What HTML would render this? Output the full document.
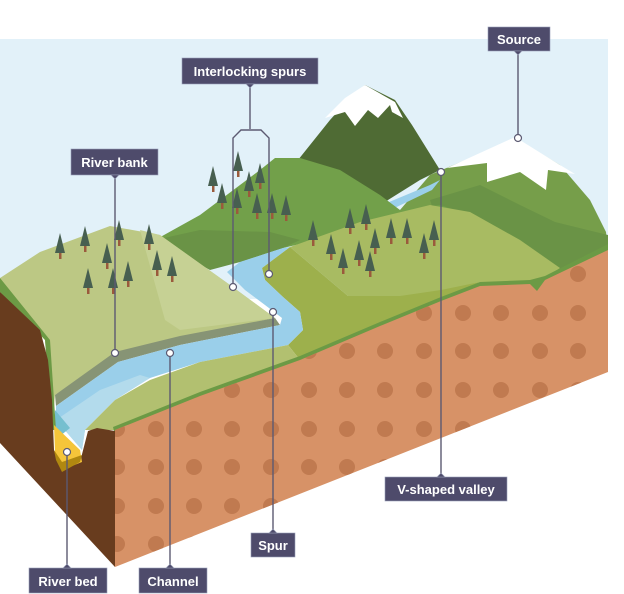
<!DOCTYPE html>
<html><head><meta charset="utf-8"><style>
html,body{margin:0;padding:0;background:#fff}
svg{display:block}
text{font-family:"Liberation Sans",sans-serif;font-weight:bold;font-size:13px;fill:#fff}
</style></head><body>
<svg width="624" height="594" viewBox="0 0 624 594" xmlns="http://www.w3.org/2000/svg">
<defs>
<clipPath id="oc"><polygon points="115,430 200,396 300,360 380,326 441,301 480,286 530,284 537,291 545,280 608,250 608,372 115,567"/></clipPath>
<g id="t"><rect x="-1" y="8" width="2.5" height="6" fill="#9a5a3c"/><polygon points="0,-12 5,8 -5,8" fill="#475f50"/></g>
</defs>
<rect x="0" y="39" width="608" height="260" fill="#e2f1f9"/>
<!-- right mountain -->
<polygon points="430,175 470,158 515,138 560,165 590,200 606,232 608,250 570,262 520,275 440,235 400,210" fill="#769e4a"/>
<polygon points="480,185 520,205 555,222 608,235 608,252 560,272 500,255 440,230 430,200" fill="#6a9346"/>
<polygon points="447,168 515,137 560,165 575,174 548,170 546,190 520,172 487,182 487,163" fill="#fff"/>
<!-- dark mountain -->
<polygon points="290,170 330,120 348,100 365,85 395,100 412,125 440,170 420,180 380,205 330,200" fill="#4f6b34"/>
<polygon points="325,118 345,98 365,85 395,102 403,118 392,112 390,105 378,118 368,110 355,126 345,112" fill="#fff"/>
<!-- back river -->
<polygon points="370,210 430,185 440,180 432,190 380,215" fill="#9acfea"/>
<!-- middle hill -->
<polygon points="155,240 200,215 260,170 275,158 300,158 340,170 380,195 400,210 440,205 470,215 360,230 283,248 240,262 200,240" fill="#72a04a"/>
<polygon points="155,240 200,230 270,232 300,240 283,248 240,262 210,270" fill="#6a9346"/>
<!-- right spur hill -->
<polygon points="290,247 360,222 430,205 470,212 520,240 560,268 540,282 480,282 441,292 400,300 348,296" fill="#a8bb62"/>
<polygon points="290,247 262,268 265,280 283,297 300,312 303,330 288,345 300,360 380,326 441,301 480,286 530,284 480,282 441,290 400,296 348,296" fill="#9db04c"/>
<!-- left plain -->
<polygon points="0,278 40,252 110,226 160,235 230,285 275,318 180,338 115,355 55,395 52,430 45,340 0,292" fill="#bcc884"/>
<polygon points="140,230 160,235 230,285 275,318 180,330 165,320" fill="#c6d194"/>
<!-- bank strip -->
<polygon points="55,395 115,352 180,336 275,318 280,325 180,345 118,362 56,406" fill="#879475"/>
<!-- river -->
<polygon points="56,406 118,362 180,345 280,325 282,318 265,305 245,290 227,272 240,262 283,248 290,247 262,268 265,280 283,297 300,312 303,330 288,345 200,362 150,378 115,398 85,430 82,450 56,420" fill="#9acfea"/>
<polygon points="56,420 100,390 140,375 150,378 115,400 85,430 82,450" fill="#b3dbec"/>
<polygon points="55,410 70,428 55,440" fill="#75bfcf"/>
<!-- front green strip -->
<polygon points="85,430 115,400 150,380 200,362 288,345 300,360 200,396 115,430" fill="#b2c070"/>
<polygon points="113,427 200,392 300,356 380,322 441,297 480,282 530,280 545,276 608,244 608,252 545,284 537,293 530,288 480,290 441,305 380,330 300,366 200,400 115,435" fill="#6c9a45"/>
<polygon points="0,278 0,292 45,340 52,430 56,430 50,340" fill="#6c9a45"/>
<!-- brown left face -->
<polygon points="0,292 40,330 48,360 52,400 54,450 62,470 80,462 88,431 97,428 115,431 115,567 0,443" fill="#683c1e"/>
<polygon points="54,425 80,450 82,462 62,470 55,452" fill="#f5c53a"/>
<polygon points="54,450 62,462 82,455 80,462 62,472 56,460" fill="#b08810"/>
<!-- orange front -->
<polygon points="115,430 200,396 300,360 380,326 441,301 480,286 530,284 537,291 545,280 608,250 608,372 115,567" fill="#d79267"/>
<g clip-path="url(#oc)" fill="#c07a50">
<g id="row">
<circle cx="117" cy="0" r="8"/><circle cx="156" cy="0" r="8"/><circle cx="194" cy="0" r="8"/><circle cx="232" cy="0" r="8"/><circle cx="271" cy="0" r="8"/><circle cx="309" cy="0" r="8"/><circle cx="347" cy="0" r="8"/><circle cx="385" cy="0" r="8"/><circle cx="424" cy="0" r="8"/><circle cx="463" cy="0" r="8"/><circle cx="501" cy="0" r="8"/><circle cx="540" cy="0" r="8"/><circle cx="578" cy="0" r="8"/><circle cx="617" cy="0" r="8"/>
</g>
<use href="#row" y="274"/><use href="#row" y="313"/><use href="#row" y="351"/><use href="#row" y="390"/><use href="#row" y="429"/><use href="#row" y="467"/><use href="#row" y="506"/><use href="#row" y="544"/>
</g>
<!-- trees -->
<use href="#t" x="60" y="245"/><use href="#t" x="85" y="238"/><use href="#t" x="119" y="232"/><use href="#t" x="149" y="236"/><use href="#t" x="107" y="255"/><use href="#t" x="113" y="280"/><use href="#t" x="88" y="280"/><use href="#t" x="128" y="273"/><use href="#t" x="157" y="262"/><use href="#t" x="172" y="268"/>
<use href="#t" x="213" y="178"/><use href="#t" x="222" y="195"/><use href="#t" x="238" y="163"/><use href="#t" x="249" y="183"/><use href="#t" x="260" y="175"/><use href="#t" x="237" y="200"/><use href="#t" x="257" y="205"/><use href="#t" x="272" y="205"/><use href="#t" x="286" y="207"/>
<use href="#t" x="313" y="232"/><use href="#t" x="331" y="246"/><use href="#t" x="350" y="220"/><use href="#t" x="366" y="216"/><use href="#t" x="343" y="260"/><use href="#t" x="359" y="252"/><use href="#t" x="375" y="240"/><use href="#t" x="391" y="230"/><use href="#t" x="407" y="230"/><use href="#t" x="370" y="263"/><use href="#t" x="424" y="245"/><use href="#t" x="434" y="232"/>
<!-- leader lines -->
<g stroke="#5c5a72" stroke-width="1.4" fill="none">
<line x1="518" y1="50" x2="518" y2="138"/>
<polyline points="250,84 250,129"/>
<polyline points="233,287 233,138 241,130 261,130 269,138 269,274"/>
<line x1="115" y1="175" x2="115" y2="353"/>
<line x1="441" y1="172" x2="441" y2="477"/>
<line x1="273" y1="312" x2="273" y2="533"/>
<line x1="67" y1="452" x2="67" y2="568"/>
<line x1="170" y1="353" x2="170" y2="568"/>
</g>
<g fill="#fff" stroke="#5c5a72" stroke-width="1.2">
<circle cx="518" cy="138" r="3.5"/><circle cx="233" cy="287" r="3.5"/><circle cx="269" cy="274" r="3.5"/><circle cx="115" cy="353" r="3.5"/><circle cx="441" cy="172" r="3.5"/><circle cx="273" cy="312" r="3.5"/><circle cx="67" cy="452" r="3.5"/><circle cx="170" cy="353" r="3.5"/>
</g>
<!-- labels -->
<g fill="#4e4b6b" stroke="#9aa0b8" stroke-width="0.6">
<rect x="488" y="27" width="62" height="24"/><polygon points="514,51 522,51 518,55"/>
<rect x="182" y="58" width="136" height="26"/><polygon points="246,84 254,84 250,88"/>
<rect x="71" y="149" width="87" height="26"/><polygon points="111,175 119,175 115,179"/>
<rect x="385" y="477" width="122" height="24"/><polygon points="437,477 445,477 441,473"/>
<rect x="251" y="533" width="44" height="24"/><polygon points="269,533 277,533 273,529"/>
<rect x="29" y="568" width="78" height="25"/><polygon points="63,568 71,568 67,564"/>
<rect x="139" y="568" width="68" height="25"/><polygon points="166,568 174,568 170,564"/>
</g>
<text x="519" y="44" text-anchor="middle">Source</text>
<text x="250" y="76" text-anchor="middle">Interlocking spurs</text>
<text x="114.5" y="167" text-anchor="middle">River bank</text>
<text x="446" y="494" text-anchor="middle">V-shaped valley</text>
<text x="273" y="550" text-anchor="middle">Spur</text>
<text x="68" y="586" text-anchor="middle">River bed</text>
<text x="173" y="586" text-anchor="middle">Channel</text>
</svg>
</body></html>
